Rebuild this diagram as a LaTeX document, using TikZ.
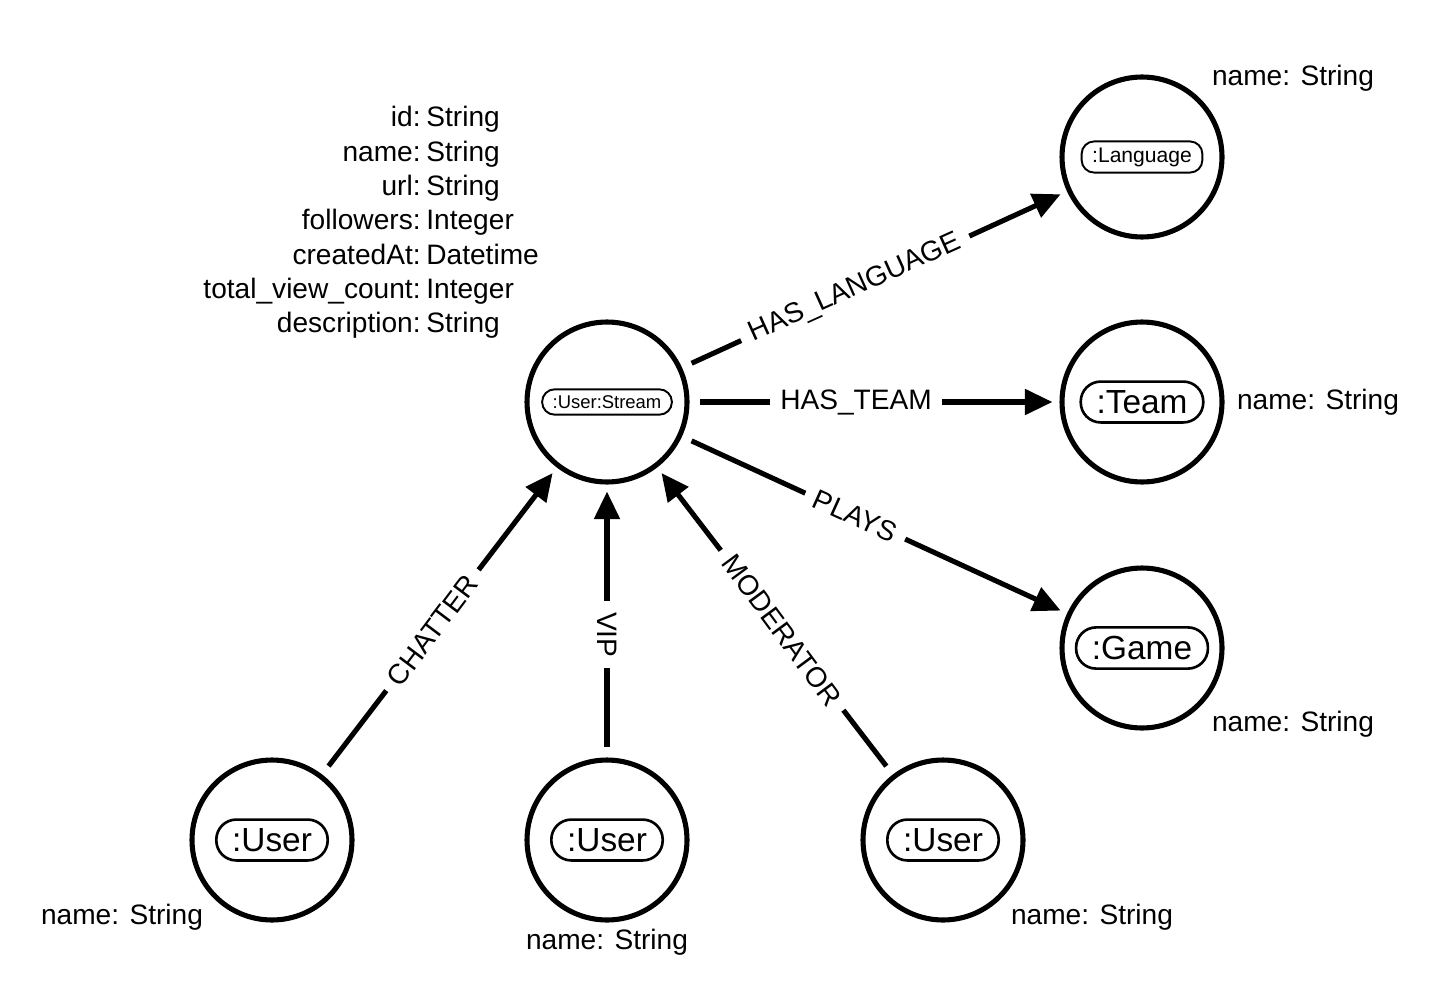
\documentclass[tikz,border=0pt]{standalone}
\usetikzlibrary{arrows.meta}
\usepackage{fontspec}
\setmainfont{Liberation Sans}
\begin{document}
\begin{tikzpicture}[x=0.02cm,y=-0.02cm,
  ent/.style={circle,draw,line width=2.9pt,minimum size=3.2cm,inner sep=0pt},
  pillbig/.style={draw,rounded corners=0.4cm,line width=1.5pt,font=\fontsize{19}{21}\selectfont,inner xsep=9pt,inner ysep=5pt},
  pillsmall/.style={draw,rounded corners=0.25cm,line width=1.1pt,font=\fontsize{10.5}{12}\selectfont,inner xsep=6pt,inner ysep=3.5pt},
  prop/.style={font=\fontsize{16}{19}\selectfont,inner sep=0pt},
  edge/.style={line width=2.9pt,-{Triangle[length=0.55cm,width=0.5cm]},shorten <=6pt,shorten >=4pt},
  lab/.style={fill=white,font=\fontsize{16}{19}\selectfont,inner xsep=6pt,inner ysep=1pt}]
\useasboundingbox (0,0) rectangle (1436,980);
\node[ent] (s) at (607,402) {};
\node[pillsmall] at (s) {:User:Stream};
\node[ent] (lang) at (1142,157) {};
\node[pillsmall,font=\fontsize{12}{14}\selectfont] at (lang) {:Language};
\node[ent] (team) at (1142,402) {};
\node[pillbig] at (team) {:Team};
\node[ent] (game) at (1142,648) {};
\node[pillbig] at (game) {:Game};
\node[ent] (u1) at (272,840) {};
\node[pillbig] at (u1) {:User};
\node[ent] (u2) at (607,840) {};
\node[pillbig] at (u2) {:User};
\node[ent] (u3) at (943,840) {};
\node[pillbig] at (u3) {:User};

\foreach \k/\v/\y [count=\i] in {id/String/118, name/String/152, url/String/186, followers/Integer/220, createdAt/Datetime/255, total\_view\_count/Integer/289, description/String/323}{
  \node[prop,anchor=base east] (pk\i) at (421,\y+9) {\k:};
  \node[prop,anchor=base west] (pv\i) at (426,\y+9) {\v};
}

\node[prop] (nl) at (1293,78) {name: String};
\node[prop] (nt) at (1318,402) {name: String};
\node[prop] (ng) at (1293,724) {name: String};
\node[prop] (n1) at (122,917) {name: String};
\node[prop] (n2) at (607,942) {name: String};
\node[prop] (n3) at (1092,917) {name: String};

\draw[edge] (s) -- (lang) node[lab,pos=0.45,rotate=24.3] {HAS\_LANGUAGE};
\draw[edge] (s) -- (team) node[lab,pos=0.45] {HAS\_TEAM};
\draw[edge] (s) -- (game) node[lab,pos=0.45,rotate=-24.3] {PLAYS};
\draw[edge] (u1) -- (s) node[lab,pos=0.47,rotate=53] {CHATTER};
\draw[edge] (u2) -- (s) node[lab,pos=0.45,rotate=-90] {VIP};
\draw[edge] (u3) -- (s) node[lab,pos=0.47,rotate=-53.5] {MODERATOR};
\end{tikzpicture}
\end{document}
